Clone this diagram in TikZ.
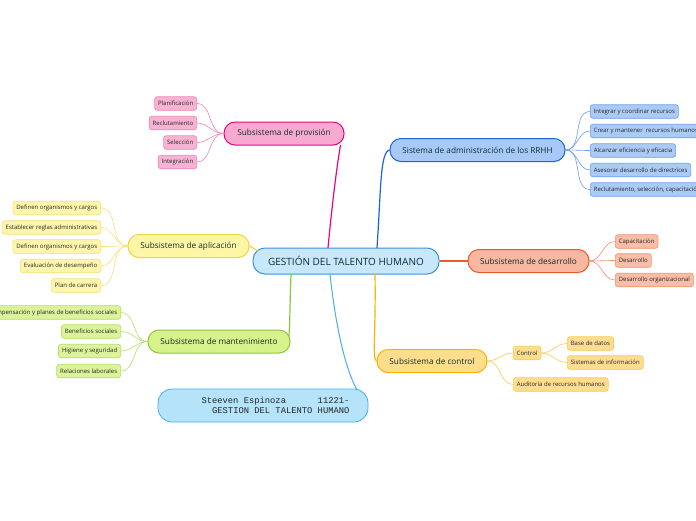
\documentclass[tikz,border=0pt]{standalone}
\usepackage{fontspec}
\setmainfont{Open Sans}
\setmonofont{Liberation Mono}
\definecolor{tdark}{HTML}{0F2E2E}
\definecolor{ldark}{HTML}{262626}
\definecolor{cfill}{HTML}{C7E8FB}\definecolor{cdraw}{HTML}{3B94D9}
\definecolor{pfill}{HTML}{F8A9CF}\definecolor{pdraw}{HTML}{E5067F}\definecolor{plf}{HTML}{F8B3D3}\definecolor{pld}{HTML}{F184BC}
\definecolor{afill}{HTML}{FFF6A5}\definecolor{adraw}{HTML}{EDD645}\definecolor{alf}{HTML}{FFF6AE}\definecolor{ald}{HTML}{F3E27A}
\definecolor{mfill}{HTML}{D6F28B}\definecolor{mdraw}{HTML}{8DC63F}\definecolor{mlf}{HTML}{DCF39B}\definecolor{mld}{HTML}{B5DF66}
\definecolor{sfill}{HTML}{A7C9F7}\definecolor{sdraw}{HTML}{1F63D2}\definecolor{slf}{HTML}{ABCBF7}\definecolor{sld}{HTML}{6E9FEF}
\definecolor{dfill}{HTML}{F8B7A0}\definecolor{ddraw}{HTML}{EA5A2A}\definecolor{dlf}{HTML}{F9BDA8}\definecolor{dld}{HTML}{F2916E}
\definecolor{kfill}{HTML}{FEDD8C}\definecolor{kdraw}{HTML}{F7B500}\definecolor{klf}{HTML}{FEDD90}\definecolor{kld}{HTML}{F8CA55}
\definecolor{nfill}{HTML}{B4E3FA}\definecolor{ndraw}{HTML}{49AEE8}
\begin{document}
\begin{tikzpicture}[x=1pt,y=-1pt,
  central/.style={draw=cdraw,fill=cfill,line width=1pt,rounded corners=12pt,minimum width=186pt,minimum height=26pt,inner sep=0pt,font=\fontsize{10}{12}\selectfont,text=tdark},
  topic/.style={draw,line width=1pt,rounded corners=11pt,minimum height=23pt,inner sep=0pt,font=\fontsize{8.2}{10}\selectfont,text=tdark},
  leaf/.style={draw,line width=0.6pt,rounded corners=2.5pt,minimum height=13.5pt,inner xsep=3.5pt,inner ysep=0pt,font=\fontsize{6}{7}\selectfont,text=ldark},
  lk/.style={line width=0.6pt},
  mainlk/.style={line width=1.2pt}
]
\useasboundingbox (0,0) rectangle (696,520);
\fill[white] (0,0) rectangle (696,520);

% central
\node[central] (c) at (346,261) {GESTIÓN DEL TALENTO HUMANO};

% topics
\node[topic,draw=pdraw,fill=pfill,minimum width=120pt] (prov) at (284,133.5) {Subsistema de provisión};
\node[topic,draw=sdraw,fill=sfill,minimum width=175pt] (sis) at (477.5,150) {Sistema de administración de los RRHH};
\node[topic,draw=ddraw,fill=dfill,minimum width=121pt] (des) at (528.5,261) {Subsistema de desarrollo};
\node[topic,draw=kdraw,fill=kfill,minimum width=110pt] (ctl) at (432,361) {Subsistema de control};
\node[topic,draw=adraw,fill=afill,minimum width=121pt] (apl) at (188.5,246) {Subsistema de aplicación};
\node[topic,draw=mdraw,fill=mfill,minimum width=142pt] (man) at (219,341.5) {Subsistema de mantenimiento};

% note
\node[draw=ndraw,fill=nfill,line width=0.8pt,rounded corners=14pt,minimum width=210pt,minimum height=33pt] (note) at (263,405.5) {};
\node[align=right,inner sep=0pt,font=\ttfamily\fontsize{8.8}{10.5}\selectfont,text=black!85] (notetext) at (275.5,405.5) {Steeven Espinoza\ \ \ \ \ \ 11221-\\GESTION DEL TALENTO HUMANO};

% main connectors
\draw[mainlk,pdraw] (328,248) .. controls (332,205) and (337,165) .. (340.5,145);
\draw[mainlk,sdraw] (377,248) .. controls (381,190) and (380,152) .. (sis.west);
\draw[mainlk,ddraw] (c.east) -- (des.west);
\draw[mainlk,kdraw] (375,274) .. controls (376,330) and (372,360) .. (ctl.west);
\draw[mainlk,adraw] (apl.east) -- (258,251);
\draw[mainlk,mdraw] (291,274) .. controls (290,300) and (290,320) .. (289,336);
\draw[line width=1pt,ndraw] (330,274) .. controls (336,330) and (346,370) .. (357,390);

% provision leaves
\begin{scope}[every node/.style={leaf,draw=pld,fill=plf,anchor=east}]
\node (p1) at (197,103.5) {Planificación};
\node (p2) at (197,123) {Reclutamiento};
\node (p3) at (197,142.5) {Selección};
\node (p4) at (197,162) {Integración};
\end{scope}
\foreach \n in {p1,p2,p3,p4} \draw[lk,pld] (prov.west) to[out=180,in=0] (\n.east);

% aplicacion leaves
\begin{scope}[every node/.style={leaf,draw=ald,fill=alf,anchor=east}]
\node (a1) at (101,208) {Definen organismos y cargos};
\node (a2) at (101,227.5) {Establecer reglas administrativas};
\node (a3) at (101,246.5) {Definen organismos y cargos};
\node (a4) at (101,266) {Evaluación de desempeño};
\node (a5) at (101,285.5) {Plan de carrera};
\end{scope}
\foreach \n in {a1,a2,a3,a4,a5} \draw[lk,ald] (apl.west) to[out=180,in=0] (\n.east);

% mantenimiento leaves
\begin{scope}[every node/.style={leaf,draw=mld,fill=mlf,anchor=east}]
\node (m1) at (121,312.5) {Compensación y planes de beneficios sociales};
\node (m2) at (121,331.5) {Beneficios sociales};
\node (m3) at (121,351) {Higiene y seguridad};
\node (m4) at (121,371) {Relaciones laborales};
\end{scope}
\foreach \n in {m1,m2,m3,m4} \draw[lk,mld] (man.west) to[out=180,in=0] (\n.east);

% sistema leaves
\begin{scope}[every node/.style={leaf,draw=sld,fill=slf,anchor=west}]
\node (s1) at (590,111.5) {Integrar y coordinar recursos};
\node (s2) at (590,131) {Crear y mantener\ \ recursos humanos};
\node (s3) at (590,150.5) {Alcanzar eficiencia y eficacia};
\node (s4) at (590,170) {Asesorar desarrollo de directrices};
\node (s5) at (590,189.5) {Reclutamiento, selección, capacitación};
\end{scope}
\foreach \n in {s1,s2,s3,s4,s5} \draw[lk,sld] (sis.east) to[out=0,in=180] (\n.west);

% desarrollo leaves
\begin{scope}[every node/.style={leaf,draw=dld,fill=dlf,anchor=west}]
\node (d1) at (615,241.5) {Capacitación};
\node (d2) at (615,260.5) {Desarrollo};
\node (d3) at (615,280) {Desarrollo organizacional};
\end{scope}
\foreach \n in {d1,d2,d3} \draw[lk,dld] (des.east) to[out=0,in=180] (\n.west);

% control leaves
\begin{scope}[every node/.style={leaf,draw=kld,fill=klf,anchor=west}]
\node (k1) at (513,353) {Control};
\node (k2) at (513,384.5) {Auditoría de recursos humanos};
\node (k11) at (567,343.5) {Base de datos};
\node (k12) at (567,362.5) {Sistemas de información};
\end{scope}
\foreach \n in {k1,k2} \draw[lk,kld] (ctl.east) to[out=0,in=180] (\n.west);
\foreach \n in {k11,k12} \draw[lk,kld] (k1.east) to[out=0,in=180] (\n.west);
\end{tikzpicture}
\end{document}
